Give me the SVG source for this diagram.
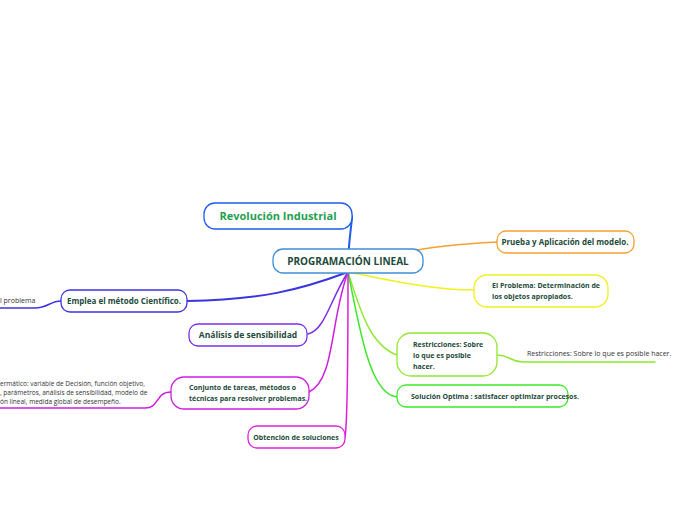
<svg xmlns="http://www.w3.org/2000/svg" width="696" height="520" viewBox="0 0 696 520">
<style>
text{font-family:"Open Sans","Noto Sans",sans-serif;fill:#1d4a3a;font-weight:bold}
.b{fill:#fff;stroke-width:1.3}
.s{font-size:7px}
.n{font-size:8px;font-weight:normal;fill:#333}
path{fill:none}
</style>
<rect width="696" height="520" fill="#fff"/>
<g id="connectors" stroke-linecap="round">
<path d="M348,272 C348,240 352,225 352,216" stroke="#1d5de8" stroke-width="2"/>
<path d="M348,272 C380,255 420,246 497,242" stroke="#f5a030" stroke-width="1.5"/>
<path d="M348,272 C390,280 430,290 474,290" stroke="#f0f020" stroke-width="1.5"/>
<path d="M348,272 C360,310 370,345 397,355" stroke="#8fe830" stroke-width="1.5"/>
<path d="M348,272 C360,330 370,395 397,397" stroke="#3ce82a" stroke-width="1.5"/>
<path d="M348,272 C300,290 260,300 187,301" stroke="#3b35e0" stroke-width="2"/>
<path d="M348,272 C330,300 325,330 308,334" stroke="#7a30e8" stroke-width="1.5"/>
<path d="M348,272 C330,320 335,380 309,392" stroke="#cc1ee0" stroke-width="1.5"/>
<path d="M348,272 C348,350 348,420 345,437" stroke="#e020d8" stroke-width="1.5"/>
<path d="M61,301 C50,301 48,308 35,308 L0,308" stroke="#3b35e0" stroke-width="1.5"/>
<path d="M171,392 C155,392 160,408 145,408 L0,408" stroke="#cc1ee0" stroke-width="1.5"/>
<path d="M497,355 C510,355 510,362 523,362 L655,362" stroke="#8fe830" stroke-width="1.5"/>
</g>
<g id="n0"><rect class="b" x="273" y="249" width="150" height="24" rx="10" stroke="#3d8fd8"/><text x="348" y="265" text-anchor="middle" font-size="10">PROGRAMACIÓN LINEAL</text></g>
<g id="n1"><rect class="b" x="204" y="203" width="148" height="26" rx="11" stroke="#1d5de8"/><text x="278" y="220" text-anchor="middle" font-size="11" style="fill:#1fa050">Revolución Industrial</text></g>
<g id="n2"><rect class="b" x="497" y="231" width="137" height="22" rx="9" stroke="#f5a030"/><text x="565" y="245" text-anchor="middle" font-size="8">Prueba y Aplicación del modelo.</text></g>
<g id="n3"><rect class="b" x="474" y="275" width="134" height="32" rx="13" stroke="#f0f020"/><text class="s" x="492" y="288">El Problema: Determinación de</text><text class="s" x="492" y="299">los objetos apropiados.</text></g>
<g id="n4"><rect class="b" x="397" y="333" width="100" height="43" rx="14" stroke="#8fe830"/><text class="s" x="413" y="347">Restricciones: Sobre</text><text class="s" x="413" y="358">lo que es posible</text><text class="s" x="413" y="369">hacer.</text></g>
<g id="n5"><text class="n" x="527" y="356" style="font-size:7px">Restricciones:  Sobre lo que es posible hacer.</text></g>
<g id="n6"><rect class="b" x="397" y="385" width="171" height="22" rx="9" stroke="#3ce82a"/><text class="s" x="411" y="399">Solución Optima : satisfacer optimizar procesos.</text></g>
<g id="n7"><rect class="b" x="61" y="290" width="126" height="22" rx="9" stroke="#3b35e0"/><text x="124" y="304" text-anchor="middle" font-size="8">Emplea el método Científico.</text></g>
<g id="n8"><text class="n" x="0" y="303" style="font-size:7px">l problema</text></g>
<g id="n9"><rect class="b" x="189" y="324" width="118" height="22" rx="9" stroke="#7a30e8"/><text x="248" y="338" text-anchor="middle" font-size="8.5">Análisis de sensibilidad</text></g>
<g id="n10"><rect class="b" x="171" y="377" width="138" height="32" rx="13" stroke="#cc1ee0"/><text class="s" x="189" y="390">Conjunto de tareas, métodos o</text><text class="s" x="189" y="401">técnicas para resolver problemas.</text></g>
<g id="n11"><text class="n" style="font-size:6.5px" x="0" y="386">ermático: variable de Decisión, función objetivo,</text><text class="n" style="font-size:6.5px" x="0" y="395">, parámetros, análisis de sensibilidad, modelo de</text><text class="n" style="font-size:6.5px" x="0" y="404">ón lineal, medida global de desempeño.</text></g>
<g id="n12"><rect class="b" x="248" y="426" width="97" height="22" rx="9" stroke="#e020d8"/><text class="s" x="296" y="440" text-anchor="middle">Obtención de soluciones</text></g>
</svg>
